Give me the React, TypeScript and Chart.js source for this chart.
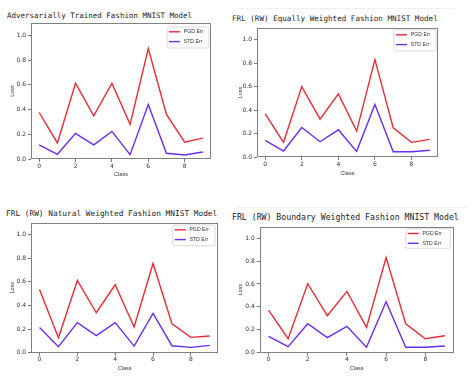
import React, { useEffect, useRef } from 'react';
import { Chart, registerables } from 'chart.js';
Chart.register(...registerables);

const classes = [0, 1, 2, 3, 4, 5, 6, 7, 8, 9];
const xTickValues = [0, 2, 4, 6, 8];
const yTickValues = [0, 0.2, 0.4, 0.6, 0.8, 1.0];
const seriesNames = ['PGD Err', 'STD Err'];
const panelTitles = [
  'Adversarially Trained Fashion MNIST Model',
  'FRL (RW) Equally Weighted Fashion MNIST Model',
  'FRL (RW) Natural Weighted Fashion MNIST Model',
  'FRL (RW) Boundary Weighted Fashion MNIST Model',
];

const advPgd = [0.376, 0.13, 0.613, 0.349, 0.613, 0.28, 0.894, 0.36, 0.136, 0.169];
const advStd = [0.114, 0.038, 0.207, 0.114, 0.223, 0.035, 0.441, 0.046, 0.033, 0.057];
const equalPgd = [0.368, 0.125, 0.6, 0.323, 0.538, 0.221, 0.83, 0.249, 0.125, 0.15];
const equalStd = [0.142, 0.051, 0.252, 0.13, 0.232, 0.048, 0.448, 0.045, 0.045, 0.057];
const naturalPgd = [0.535, 0.127, 0.611, 0.338, 0.575, 0.217, 0.755, 0.245, 0.13, 0.141];
const naturalStd = [0.214, 0.051, 0.254, 0.144, 0.254, 0.056, 0.332, 0.059, 0.045, 0.062];
const boundaryPgd = [0.372, 0.122, 0.602, 0.323, 0.535, 0.221, 0.831, 0.253, 0.122, 0.148];
const boundaryStd = [0.142, 0.052, 0.253, 0.131, 0.23, 0.047, 0.445, 0.047, 0.047, 0.058];

const RED = '#ee2a35';
const PURPLE = '#6a2cf0';
const SANS = '"DejaVu Sans", sans-serif';
const NARROW = '"Liberation Sans", Arial, sans-serif';

type PanelCfg = {
  title: string;
  pgd: number[];
  std: number[];
  canvas: { left: number; top: number; width: number; height: number };
  pad: { left: number; top: number; right: number; bottom: number };
  wy: number;
  hx: number;
  yTitlePad: number;
  legend: { right: number; top: number; w: number; h: number };
  titleText: { left: number; cy: number; fs: number };
};

const panels: PanelCfg[] = [
  {
    title: panelTitles[0], pgd: advPgd, std: advStd,
    canvas: { left: 0, top: 0, width: 224, height: 178 },
    pad: { left: 0, top: 23, right: 13, bottom: 0 },
    wy: 31, hx: 19, yTitlePad: 9.4,
    legend: { right: 2, top: 4, w: 42, h: 21 },
    titleText: { left: 7, cy: 15, fs: 7.5 },
  },
  {
    title: panelTitles[1], pgd: equalPgd, std: equalStd,
    canvas: { left: 237, top: 0, width: 237, height: 177 },
    pad: { left: 0, top: 28, right: 36, bottom: 0 },
    wy: 20, hx: 20, yTitlePad: 0,
    legend: { right: 2, top: 2, w: 42, h: 21 },
    titleText: { left: 232, cy: 18.3, fs: 7.6 },
  },
  {
    title: panelTitles[2], pgd: naturalPgd, std: naturalStd,
    canvas: { left: 0, top: 195, width: 230, height: 177 },
    pad: { left: 0, top: 27.7, right: 11.7, bottom: 0 },
    wy: 31, hx: 19.3, yTitlePad: 8.7,
    legend: { right: 3.3, top: 2.3, w: 42.3, h: 20.7 },
    titleText: { left: 6, cy: 213.3, fs: 7.8 },
  },
  {
    title: panelTitles[3], pgd: boundaryPgd, std: boundaryStd,
    canvas: { left: 237, top: 195, width: 237, height: 177 },
    pad: { left: 0, top: 31.7, right: 20.3, bottom: 0 },
    wy: 22.7, hx: 19.3, yTitlePad: 0,
    legend: { right: 3.4, top: 2, w: 44.6, h: 19.6 },
    titleText: { left: 232, cy: 217.7, fs: 8.2 },
  },
];

const framePlugin = {
  id: 'frame',
  beforeDatasetsDraw(chart: any) {
    const { ctx, chartArea } = chart;
    ctx.save();
    ctx.strokeStyle = '#808080';
    ctx.lineWidth = 1;
    ctx.strokeRect(
      Math.round(chartArea.left) + 0.5,
      Math.round(chartArea.top) + 0.5,
      Math.round(chartArea.right - chartArea.left) - 1,
      Math.round(chartArea.bottom - chartArea.top) - 1
    );
    ctx.restore();
  },
};

const boxLegendPlugin = {
  id: 'boxLegend',
  afterDraw(chart: any, _args: any, opts: any) {
    const { ctx, chartArea } = chart;
    const x = chartArea.right - opts.right - opts.w;
    const y = chartArea.top + opts.top;
    ctx.save();
    ctx.fillStyle = 'rgba(255,255,255,0.9)';
    ctx.strokeStyle = '#d2d2d2';
    ctx.lineWidth = 0.8;
    ctx.beginPath();
    if ((ctx as any).roundRect) (ctx as any).roundRect(x, y, opts.w, opts.h, 1.5);
    else ctx.rect(x, y, opts.w, opts.h);
    ctx.fill();
    ctx.stroke();
    chart.data.datasets.forEach((ds: any, i: number) => {
      const cy = y + 4.8 + i * 9.8;
      ctx.strokeStyle = ds.borderColor;
      ctx.lineWidth = 1.4;
      ctx.beginPath();
      ctx.moveTo(x + 2, cy);
      ctx.lineTo(x + 13, cy);
      ctx.stroke();
      ctx.fillStyle = '#333';
      ctx.font = `5.2px ${NARROW}`;
      ctx.textBaseline = 'middle';
      ctx.textAlign = 'left';
      ctx.fillText(ds.label, x + 16.7, cy);
    });
    ctx.restore();
  },
};

function Panel({ cfg }: { cfg: PanelCfg }) {
  const ref = useRef<HTMLCanvasElement | null>(null);
  useEffect(() => {
    if (!ref.current) return;
    const tickFont = { family: SANS, size: 6 };
    const titleFont = { family: NARROW, size: 5.5 };
    const chart = new Chart(ref.current, {
      type: 'line',
      data: {
        datasets: [
          {
            label: seriesNames[0],
            data: classes.map((c, i) => ({ x: c, y: cfg.pgd[i] })),
            borderColor: RED,
            backgroundColor: RED,
            borderWidth: 1.4,
            pointRadius: 0,
            tension: 0,
            fill: false,
          },
          {
            label: seriesNames[1],
            data: classes.map((c, i) => ({ x: c, y: cfg.std[i] })),
            borderColor: PURPLE,
            backgroundColor: PURPLE,
            borderWidth: 1.4,
            pointRadius: 0,
            tension: 0,
            fill: false,
          },
        ],
      },
      options: {
        responsive: false,
        animation: false,
        devicePixelRatio: 1,
        layout: { padding: cfg.pad },
        plugins: {
          legend: { display: false },
          title: { display: false },
          tooltip: { enabled: false },
          boxLegend: cfg.legend,
        } as any,
        scales: {
          x: {
            type: 'linear',
            min: -0.45,
            max: 9.45,
            afterBuildTicks: (s: any) => {
              s.ticks = xTickValues.map((v) => ({ value: v }));
            },
            afterFit: (s: any) => {
              s.height = cfg.hx;
            },
            grid: { drawOnChartArea: false, tickLength: 3, color: '#555', lineWidth: 0.8 },
            border: { display: false },
            ticks: {
              font: tickFont,
              color: '#333',
              padding: 0.5,
              maxRotation: 0,
              autoSkip: false,
              callback: (v: any) => String(v),
            },
            title: {
              display: true,
              text: 'Class',
              font: titleFont,
              color: '#333',
              padding: { top: 0, bottom: 0 },
            },
          },
          y: {
            type: 'linear',
            min: 0,
            max: 1.1,
            afterBuildTicks: (s: any) => {
              s.ticks = yTickValues.map((v) => ({ value: v }));
            },
            afterFit: (s: any) => {
              s.width = cfg.wy;
            },
            grid: { drawOnChartArea: false, tickLength: 3, color: '#555', lineWidth: 0.8 },
            border: { display: false },
            ticks: {
              font: tickFont,
              color: '#333',
              padding: 2,
              callback: (v: any) => Number(v).toFixed(1),
            },
            title: {
              display: true,
              text: 'Loss',
              font: titleFont,
              color: '#333',
              padding: { top: cfg.yTitlePad, bottom: 0 },
            },
          },
        },
      } as any,
      plugins: [framePlugin, boxLegendPlugin],
    });
    return () => chart.destroy();
  }, [cfg]);

  const t = cfg.titleText;
  return (
    <>
      <div
        style={{
          position: 'absolute',
          left: t.left,
          top: t.cy - t.fs * 0.6,
          height: t.fs * 1.2,
          lineHeight: `${t.fs * 1.2}px`,
          fontSize: t.fs,
          fontFamily: '"DejaVu Sans Mono", monospace',
          color: '#222',
          whiteSpace: 'nowrap',
        }}
      >
        {cfg.title}
      </div>
      <canvas
        ref={ref}
        width={cfg.canvas.width}
        height={cfg.canvas.height}
        style={{
          position: 'absolute',
          left: cfg.canvas.left,
          top: cfg.canvas.top,
          width: cfg.canvas.width,
          height: cfg.canvas.height,
        }}
      />
    </>
  );
}

export default function App() {
  return (
    <div
      style={{
        position: 'fixed',
        left: 0,
        top: 0,
        width: 474,
        height: 387,
        background: '#fff',
        overflow: 'hidden',
      }}
    >
      <div style={{ position: 'absolute', left: 237, top: 8, width: 218, height: 1, background: '#efefef' }} />
      <div style={{ position: 'absolute', left: 237, top: 207, width: 230, height: 1, background: '#efefef' }} />
      {panels.map((p, i) => (
        <Panel key={i} cfg={p} />
      ))}
    </div>
  );
}
